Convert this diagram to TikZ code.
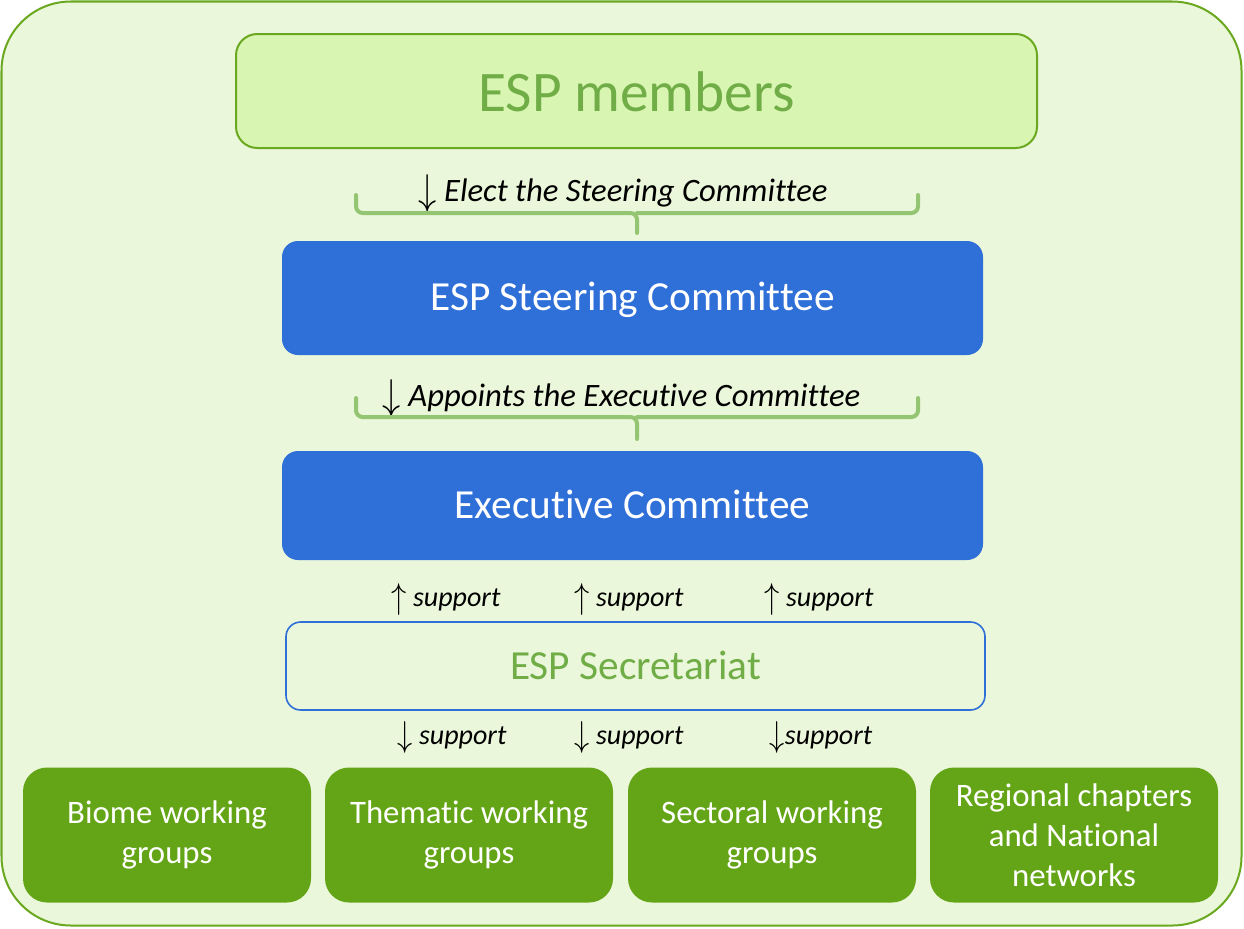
\documentclass[tikz,border=0pt]{standalone}
\usepackage{fontspec}
\setmainfont{Carlito}[Ligatures=NoCommon]
\definecolor{bgfill}{HTML}{EBF7DA}
\definecolor{edgegreen}{HTML}{6AA81F}
\definecolor{memfill}{HTML}{D8F5B2}
\definecolor{txtgreen}{HTML}{70AD47}
\definecolor{bracegreen}{HTML}{93C572}
\definecolor{boxblue}{HTML}{2F6FD8}
\definecolor{groupgreen}{HTML}{64A517}
\newcommand{\dnarr}{\raisebox{-0.1em}{\scalebox{1.1}[1.3]{$\downarrow$}}}
\newcommand{\uparr}{\raisebox{-0.1em}{\scalebox{1.1}[1.3]{$\uparrow$}}}
\tikzset{
  outerbox/.style={draw=edgegreen, fill=bgfill, line width=1.5pt, rounded corners=52pt, inner sep=0pt},
  memberbox/.style={draw=edgegreen, fill=memfill, line width=1.5pt, rounded corners=16pt, inner sep=0pt,
    text=txtgreen, font=\fontsize{43}{50}\selectfont, text height=34pt, text depth=4pt},
  bluebox/.style={fill=boxblue, rounded corners=12pt, inner sep=0pt, text=white,
    font=\fontsize{31}{37}\selectfont, minimum width=701*0.75pt, text height=24.8pt, text depth=5.8pt},
  secbox/.style={draw=boxblue, fill=bgfill, line width=1.2pt, rounded corners=11pt, inner sep=0pt,
    text=txtgreen, font=\fontsize{31}{37}\selectfont, text height=24pt, text depth=4pt},
  groupbox/.style={fill=groupgreen, rounded corners=18pt, inner sep=0pt, text=white, align=center,
    font=\fontsize{24.6}{30}\selectfont, minimum width=288*0.75pt, minimum height=135*0.75pt},
  biglabel/.style={inner sep=0pt, anchor=base, font=\fontsize{24.5}{30}\selectfont},
  suplabel/.style={inner sep=0pt, anchor=base, font=\fontsize{21}{26}\selectfont},
  bracestyle/.style={draw=bracegreen, line width=3pt, rounded corners=5pt, line cap=round}
}
\begin{document}
\begin{tikzpicture}[x=0.75pt,y=-0.75pt]
\useasboundingbox (0,0) rectangle (1244,928);
\node[outerbox, minimum width=1240*0.75pt, minimum height=924*0.75pt] (outer) at (621.5,463.5) {};
\node[memberbox, minimum width=801*0.75pt, minimum height=114*0.75pt] (members) at (636.5,91) {ESP members};
\node[bluebox, minimum height=114*0.75pt] (steer) at (632.5,298) {ESP Steering Committee};
\node[bluebox, minimum height=109*0.75pt] (exec) at (632.5,505.5) {Executive Committee};
\node[secbox, minimum width=699*0.75pt, minimum height=88*0.75pt] (secr) at (635.5,666) {ESP Secretariat};
\node[groupbox] (g1) at (167,835) {Biome working\\groups};
\node[groupbox] (g2) at (469,835) {Thematic working\\groups};
\node[groupbox] (g3) at (772,835) {Sectoral working\\groups};
\node[groupbox] (g4) at (1074,835) {Regional chapters\\and National\\networks};
% labels
\node[biglabel] (elect) at (623,201) {\dnarr\ \textit{Elect the Steering Committee}};
\node[biglabel] (appoint) at (621.5,406) {\dnarr\ \textit{Appoints the Executive Committee}};
\node[suplabel] (su1) at (446,606) {\uparr\ \textit{support}};
\node[suplabel] (su2) at (629,606) {\uparr\ \textit{support}};
\node[suplabel] (su3) at (819,606) {\uparr\ \textit{support}};
\node[suplabel] (sd1) at (452,744) {\dnarr\ \textit{support}};
\node[suplabel] (sd2) at (629,744) {\dnarr\ \textit{support}};
\node[suplabel] (sd3) at (821,744) {\dnarr\textit{support}};
% braces
\coordinate (b1l) at (356,195);
\coordinate (b1r) at (918,195);
\coordinate (b1t) at (637,233);
\draw[bracestyle] (b1l) |- (637,213) -- (b1t);
\draw[bracestyle] (b1r) |- (637,213);
\coordinate (b2l) at (356,398);
\coordinate (b2r) at (918,398);
\coordinate (b2t) at (637,439);
\draw[bracestyle] (b2l) |- (637,417) -- (b2t);
\draw[bracestyle] (b2r) |- (637,417);
\end{tikzpicture}
\end{document}
